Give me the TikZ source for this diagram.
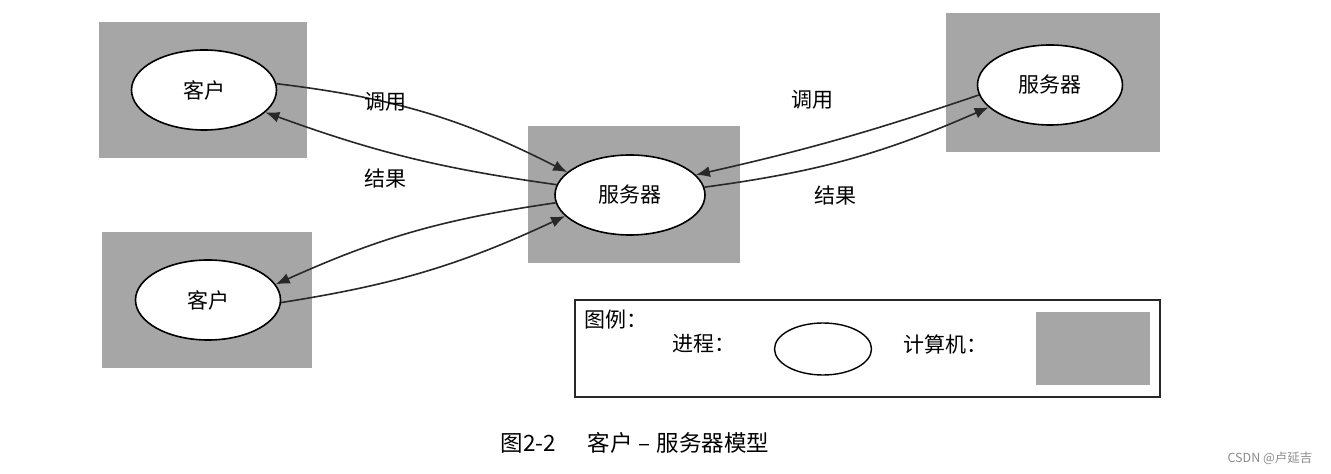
\documentclass[tikz,border=0pt]{standalone}
\usepackage{fontspec}
\setmainfont{Noto Sans CJK SC}
\usetikzlibrary{shapes.geometric,arrows.meta}
\definecolor{boxgray}{RGB}{166,166,166}
\definecolor{linegray}{RGB}{40,40,40}
\definecolor{wmgray}{RGB}{140,140,140}
\tikzset{
  computer/.style={fill=boxgray,draw=none},
  proc/.style={shape=ellipse,draw=black,line width=1.6pt,fill=white,inner sep=0pt,font=\fontsize{21}{23}\selectfont},
  lbl/.style={font=\fontsize{21}{23}\selectfont,inner sep=0pt},
  conn/.style={draw=linegray,line width=1.6pt,-{Latex[length=14pt,width=11pt]}}
}
\begin{document}
\begin{tikzpicture}[x=1pt,y=1pt]
\useasboundingbox[fill=white] (0,0) rectangle (1331,474);
% computers
\fill[computer] (99,316) rectangle (307,452);
\fill[computer] (102,106) rectangle (312,242);
\fill[computer] (528,211) rectangle (740,348);
\fill[computer] (946,322) rectangle (1160,461);
% processes
\node[proc,minimum width=145pt,minimum height=80pt] (c1) at (204,384) {客户};
\node[proc,minimum width=145pt,minimum height=80pt] (c2) at (208,174) {客户};
\node[proc,minimum width=150pt,minimum height=80pt] (s) at (630,279) {服务器};
\node[proc,minimum width=145pt,minimum height=80pt] (r) at (1050,389) {服务器};
% connectors
\draw[conn] (c1.5) to[bend left=10] (s.160);
\draw[conn] (s.172) to[bend left=6] (c1.-20);
\draw[conn] (s.186) to[bend right=8] (c2.13);
\draw[conn] (c2.-2) to[bend right=8] (s.198);
\draw[conn] (r.188) to[bend left=3] (s.17);
\draw[conn] (s.6) to[bend right=8] (r.200);
% labels
\node[lbl] (l1) at (385,372) {调用};
\node[lbl] (l2) at (385,295) {结果};
\node[lbl] (l3) at (812,374) {调用};
\node[lbl] (l4) at (835,278) {结果};
% legend
\draw[line width=1.4pt,draw=linegray] (575,77) rectangle (1160,174);
\node[lbl,anchor=west] (lg) at (584,154) {图例：};
\node[lbl] (lp) at (704,130) {进程：};
\node[shape=ellipse,draw=black,line width=1.4pt,fill=white,minimum width=97pt,minimum height=52pt,inner sep=0pt] (le) at (823,125) {};
\node[lbl] (lc) at (945,130) {计算机：};
\fill[computer] (1036,89) rectangle (1150,162);
% caption
\node[font=\fontsize{22.5}{25}\selectfont,inner sep=0pt] (cap) at (635,31) {图2-2\hspace{32pt}客户\hspace{6pt}–\hspace{6pt}服务器模型};
\node[font=\fontsize{12.5}{14}\selectfont,text=wmgray,inner sep=0pt] (wm) at (1270,16) {CSDN @卢延吉};
\end{tikzpicture}
\end{document}
